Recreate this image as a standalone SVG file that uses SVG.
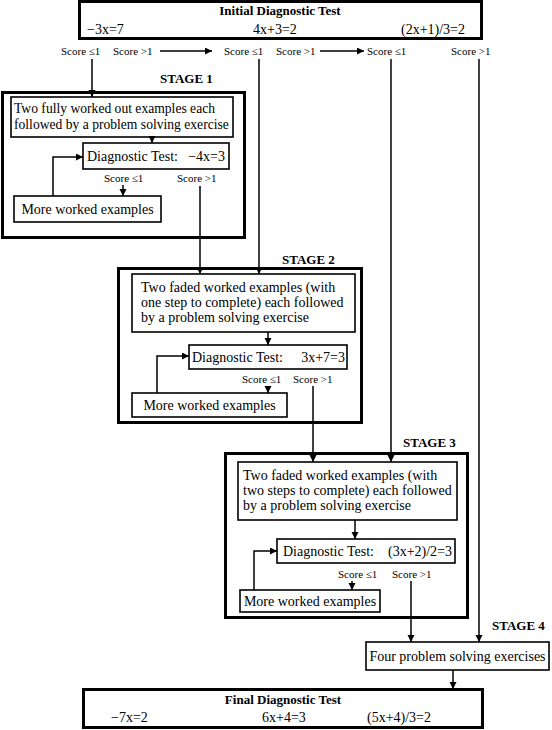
<svg xmlns="http://www.w3.org/2000/svg" width="552" height="730" viewBox="0 0 552 730">
<defs>
<marker id="ah" markerUnits="userSpaceOnUse" markerWidth="8" markerHeight="8" refX="7" refY="3.5" orient="auto">
<path d="M0,0 L7,3.5 L0,7 z" fill="#000"/>
</marker>
<style>
text{font-family:"Liberation Serif","Times New Roman",serif;fill:#000}
.t{font-size:14px}
.t2{font-size:13.6px}
.b{font-size:13px;font-weight:bold}
.s{font-size:11px}
.big{fill:#fff;stroke:#000;stroke-width:3}
.box{fill:#fff;stroke:#000;stroke-width:1.6}
.c{fill:none;stroke:#000;stroke-width:1.5;marker-end:url(#ah)}
</style>
</defs>
<rect width="552" height="730" fill="#fff"/>

<g id="initial">
<rect class="big" x="79.5" y="1.5" width="402" height="37"/>
<text class="b" x="280" y="15" text-anchor="middle">Initial Diagnostic Test</text>
<text class="t" x="87" y="34">−3x=7</text>
<text class="t" x="253" y="34">4x+3=2</text>
<text class="t" x="401" y="34">(2x+1)/3=2</text>
</g>

<g id="score-row">
<text class="s" x="61" y="55">Score ≤1</text>
<text class="s" x="113" y="55">Score &gt;1</text>
<text class="s" x="224" y="55">Score ≤1</text>
<text class="s" x="276" y="55">Score &gt;1</text>
<text class="s" x="367" y="55">Score ≤1</text>
<text class="s" x="451" y="55">Score &gt;1</text>
</g>

<g id="stage1">
<rect class="big" x="2.5" y="92.5" width="242" height="145"/>
<text class="b" x="160" y="83">STAGE 1</text>
<g id="s1-examples">
<rect class="box" x="11" y="97" width="222" height="40"/>
<text class="t2" x="14" y="113">Two fully worked out examples each</text>
<text class="t2" x="14" y="129">followed by a problem solving exercise</text>
</g>
<g id="s1-test">
<rect class="box" x="83" y="143" width="146" height="26"/>
<text class="t" x="87" y="161">Diagnostic Test:<tspan x="225" text-anchor="end">−4x=3</tspan></text>
</g>
<text class="s" x="104" y="182">Score ≤1</text>
<text class="s" x="177" y="182">Score &gt;1</text>
<g id="s1-more">
<rect class="box" x="14" y="196" width="147" height="26"/>
<text class="t" x="87.5" y="214" text-anchor="middle">More worked examples</text>
</g>
</g>

<g id="stage2">
<rect class="big" x="118.5" y="268.5" width="243" height="154"/>
<text class="b" x="282" y="264">STAGE 2</text>
<g id="s2-examples">
<rect class="box" x="132" y="274" width="223" height="58"/>
<text class="t" x="141" y="292">Two faded worked examples (with</text>
<text class="t" x="141" y="307">one step to complete) each followed</text>
<text class="t" x="141" y="322">by a problem solving exercise</text>
</g>
<g id="s2-test">
<rect class="box" x="189" y="345" width="158" height="24"/>
<text class="t" x="192" y="362">Diagnostic Test:<tspan x="345" text-anchor="end">3x+7=3</tspan></text>
</g>
<text class="s" x="242" y="383">Score ≤1</text>
<text class="s" x="293" y="383">Score &gt;1</text>
<g id="s2-more">
<rect class="box" x="132" y="393" width="155" height="24"/>
<text class="t" x="209.5" y="410" text-anchor="middle">More worked examples</text>
</g>
</g>

<g id="stage3">
<rect class="big" x="225.5" y="453.5" width="242" height="164"/>
<text class="b" x="403" y="447">STAGE 3</text>
<g id="s3-examples">
<rect class="box" x="238" y="462" width="219" height="58"/>
<text class="t" x="243" y="480">Two faded worked examples (with</text>
<text class="t" x="243" y="495">two steps to complete) each followed</text>
<text class="t" x="243" y="510">by a problem solving exercise</text>
</g>
<g id="s3-test">
<rect class="box" x="277" y="539" width="178" height="24"/>
<text class="t" x="283" y="556">Diagnostic Test:<tspan x="452" text-anchor="end">(3x+2)/2=3</tspan></text>
</g>
<text class="s" x="338" y="578">Score ≤1</text>
<text class="s" x="392" y="578">Score &gt;1</text>
<g id="s3-more">
<rect class="box" x="240" y="590" width="140" height="22"/>
<text class="t" x="310" y="606" text-anchor="middle">More worked examples</text>
</g>
</g>

<g id="stage4">
<text class="b" x="492" y="630">STAGE 4</text>
<rect class="box" x="366" y="642" width="183" height="28" stroke-width="2"/>
<text class="t" x="457.5" y="661" text-anchor="middle">Four problem solving exercises</text>
</g>

<g id="final">
<rect class="big" x="83.5" y="689.5" width="399" height="38"/>
<text class="b" x="283" y="704" text-anchor="middle">Final Diagnostic Test</text>
<text class="t" x="111" y="722">−7x=2</text>
<text class="t" x="262" y="722">6x+4=3</text>
<text class="t" x="367" y="722">(5x+4)/3=2</text>
</g>

<g id="connectors">
<line class="c" x1="160" y1="51" x2="212" y2="51"/>
<line class="c" x1="320" y1="51" x2="364" y2="51"/>
<line class="c" x1="92" y1="59" x2="92" y2="97"/>
<line class="c" x1="259" y1="59" x2="259" y2="274"/>
<line class="c" x1="391" y1="59" x2="391" y2="462"/>
<line class="c" x1="479" y1="59" x2="479" y2="642"/>
<line class="c" x1="152" y1="137" x2="152" y2="143"/>
<line class="c" x1="123" y1="185" x2="123" y2="196"/>
<path class="c" d="M53,196 V157 H83"/>
<line class="c" x1="200" y1="186" x2="200" y2="274"/>
<line class="c" x1="268" y1="332" x2="268" y2="345"/>
<line class="c" x1="268" y1="386" x2="268" y2="393"/>
<path class="c" d="M157,393 V356 H189"/>
<line class="c" x1="313" y1="386" x2="313" y2="462"/>
<line class="c" x1="355" y1="520" x2="355" y2="539"/>
<line class="c" x1="352" y1="581" x2="352" y2="590"/>
<path class="c" d="M254,590 V551 H277"/>
<line class="c" x1="411" y1="581" x2="411" y2="642"/>
<line class="c" x1="453" y1="670" x2="453" y2="689"/>
</g>
</svg>
